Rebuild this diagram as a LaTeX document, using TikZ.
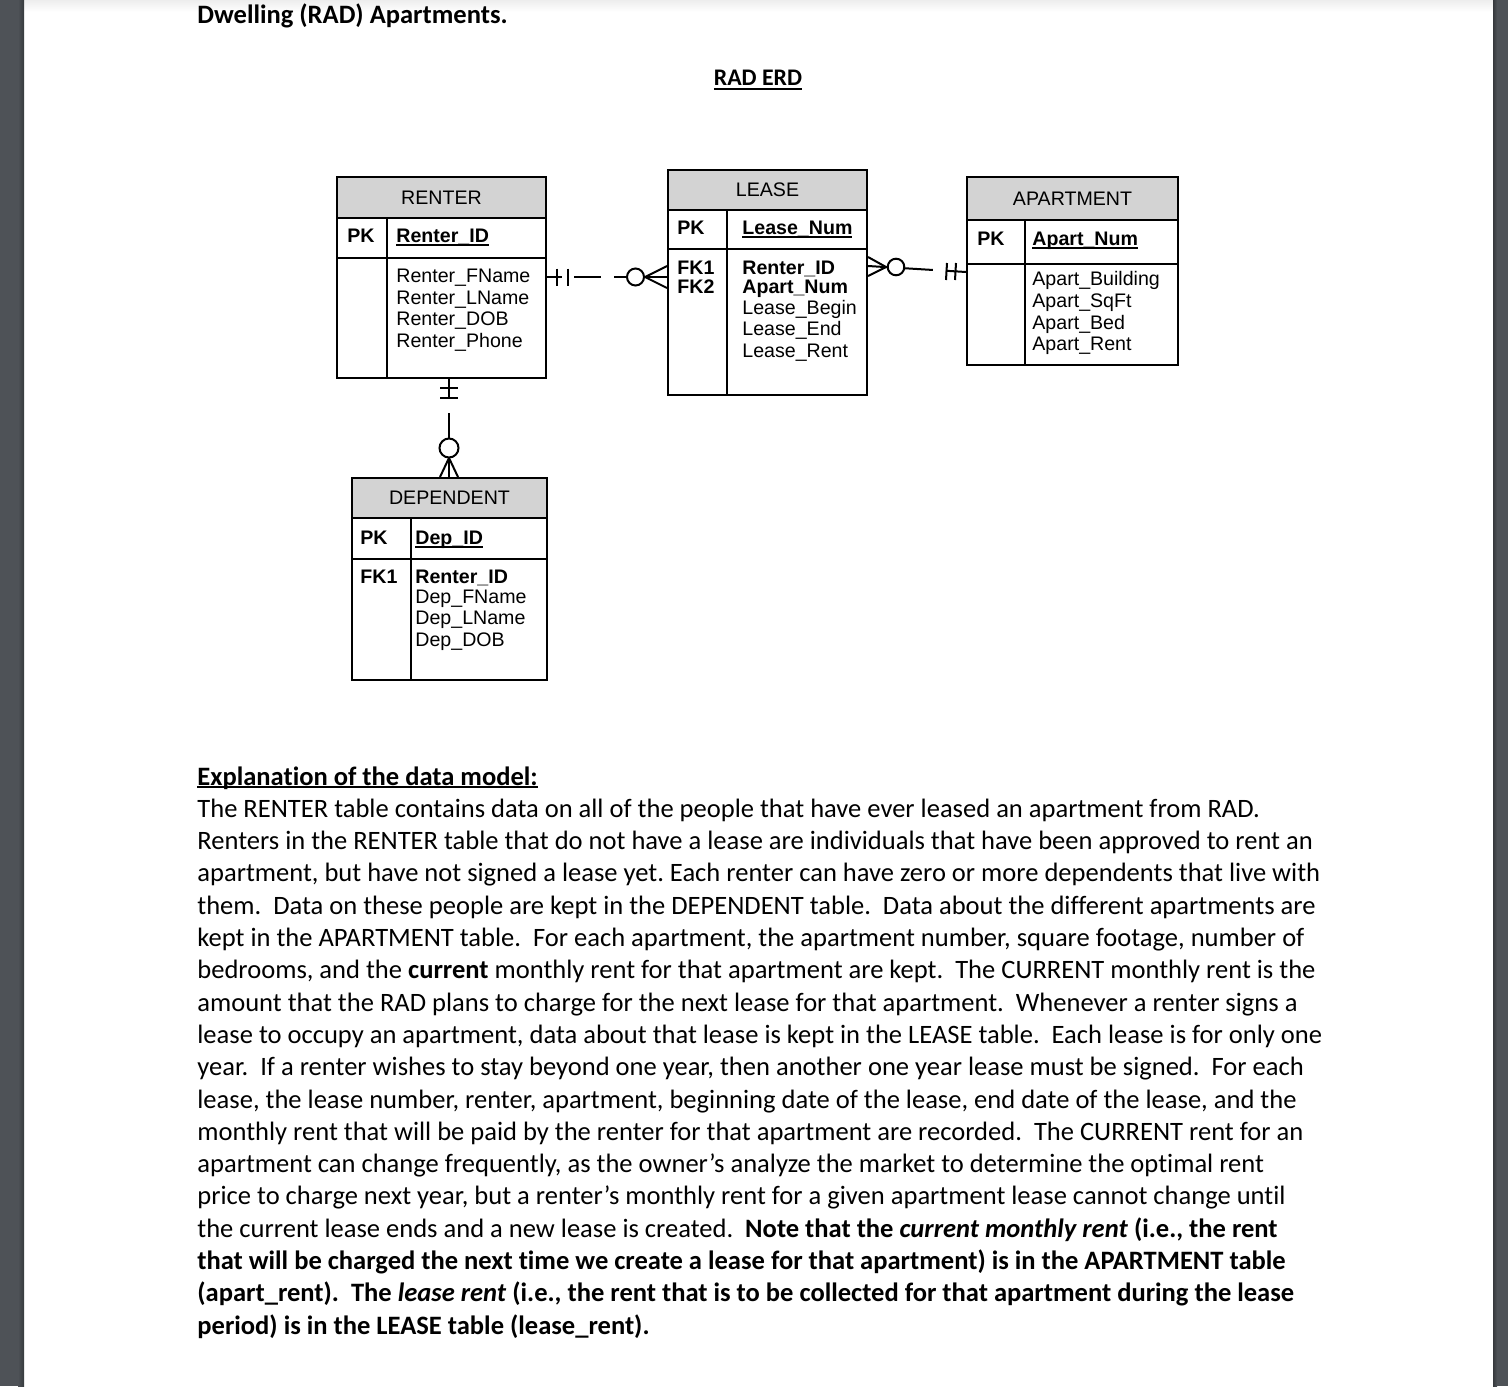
\documentclass[tikz,border=0pt]{standalone}
\usepackage{fontspec}
\setmainfont{Carlito}[Ligatures=NoCommon]
\newfontfamily\erdfont{Liberation Sans}
\usetikzlibrary{fit,calc}
\definecolor{hdrgray}{RGB}{211,211,211}
\definecolor{sidegray}{RGB}{78,82,87}
\frenchspacing
\newcommand\thul[3]{\setbox0\hbox{#3}\rlap{\rule[-#1]{\wd0}{#2}}\box0}
\tikzset{
  tblbox/.style={draw, line width=1pt, inner sep=0pt},
  hdrbox/.style={fill=hdrgray, inner sep=0pt},
  tblline/.style={line width=1pt},
  erd/.style={font=\erdfont\fontsize{9.8pt}{11pt}\selectfont, inner sep=0pt, anchor=base west},
  erdb/.style={font=\erdfont\bfseries\fontsize{9.8pt}{11pt}\selectfont, inner sep=0pt, anchor=base west},
  erdh/.style={font=\erdfont\fontsize{9.8pt}{11pt}\selectfont, inner sep=0pt, anchor=center},
  para/.style={font=\fontsize{13.27pt}{16pt}\selectfont, inner sep=0pt, anchor=base west},
  rel/.style={line width=1pt},
  knob/.style={line width=1pt, fill=white},
}
\begin{document}
\begin{tikzpicture}[x=0.5pt,y=-0.5pt]
\useasboundingbox (0,0) rectangle (1508,1386);
% page frame
\fill[white] (0,0) rectangle (1508,1386);
\shade[top color=black!7, bottom color=white] (24,0) rectangle (1493,12);
\fill[sidegray] (0,0) rectangle (24,1386);
\shade[left color=sidegray, right color=sidegray!70!black] (18,0) rectangle (24,1386);
\fill[sidegray] (1493,0) rectangle (1508,1386);
\shade[left color=sidegray!70!black, right color=sidegray] (1493,0) rectangle (1497,1386);

% titles
\node[para] (title) at (197,24) {\textbf{Dwelling (RAD) Apartments.}};
\node[font=\fontsize{11.9pt}{14pt}\selectfont, inner sep=0pt, anchor=base] (erdtitle) at (758,86) {\thul{2.2pt}{1pt}{\textbf{RAD ERD}}};

% ---------- RENTER ----------
\coordinate (rNW) at (337,177); \coordinate (rHB) at (546,218); \coordinate (rSE) at (546,378);
\node[hdrbox, fit=(rNW)(rHB)] (renterH) {};
\node[tblbox, fit=(rNW)(rSE)] (renter) {};
\draw[tblline] (337,218) -- (546,218);
\draw[tblline] (337,258) -- (546,258);
\draw[tblline] (387,218) -- (387,378);
\node[erdh] (renterT) at (renterH.center) {RENTER};
\node[erdb] (renterPK) at (347,242) {PK};
\node[erdb] (renterK) at (396,242) {\thul{1.8pt}{0.8pt}{Renter\_ID}};
\node[erd] (renterA1) at (396,282) {Renter\_FName};
\node[erd] (renterA2) at (396,304) {Renter\_LName};
\node[erd] (renterA3) at (396,325) {Renter\_DOB};
\node[erd] (renterA4) at (396,347) {Renter\_Phone};

% ---------- LEASE ----------
\coordinate (lNW) at (668,170); \coordinate (lHB) at (867,210); \coordinate (lSE) at (867,395);
\node[hdrbox, fit=(lNW)(lHB)] (leaseH) {};
\node[tblbox, fit=(lNW)(lSE)] (lease) {};
\draw[tblline] (668,210) -- (867,210);
\draw[tblline] (668,249) -- (867,249);
\draw[tblline] (727,210) -- (727,395);
\node[erdh] (leaseT) at (leaseH.center) {LEASE};
\node[erdb] (leasePK) at (677,234) {PK};
\node[erdb] (leaseK) at (742,234) {\thul{1.8pt}{0.8pt}{Lease\_Num}};
\node[erdb] (leaseF1) at (677,274) {FK1};
\node[erdb] (leaseF2) at (677,293) {FK2};
\node[erdb] (leaseA1) at (742,274) {Renter\_ID};
\node[erdb] (leaseA2) at (742,293) {Apart\_Num};
\node[erd] (leaseA3) at (742,314) {Lease\_Begin};
\node[erd] (leaseA4) at (742,335) {Lease\_End};
\node[erd] (leaseA5) at (742,357) {Lease\_Rent};

% ---------- APARTMENT ----------
\coordinate (aNW) at (967,177); \coordinate (aHB) at (1178,220); \coordinate (aSE) at (1178,365);
\node[hdrbox, fit=(aNW)(aHB)] (aptH) {};
\node[tblbox, fit=(aNW)(aSE)] (apt) {};
\draw[tblline] (967,220) -- (1178,220);
\draw[tblline] (967,264) -- (1178,264);
\draw[tblline] (1025,220) -- (1025,365);
\node[erdh] (aptT) at (aptH.center) {APARTMENT};
\node[erdb] (aptPK) at (977,245) {PK};
\node[erdb] (aptK) at (1032,245) {\thul{1.8pt}{0.8pt}{Apart\_Num}};
\node[erd] (aptA1) at (1032,285) {Apart\_Building};
\node[erd] (aptA2) at (1032,307) {Apart\_SqFt};
\node[erd] (aptA3) at (1032,329) {Apart\_Bed};
\node[erd] (aptA4) at (1032,350) {Apart\_Rent};

% ---------- DEPENDENT ----------
\coordinate (dNW) at (352,478); \coordinate (dHB) at (547,518); \coordinate (dSE) at (547,680);
\node[hdrbox, fit=(dNW)(dHB)] (depH) {};
\node[tblbox, fit=(dNW)(dSE)] (dep) {};
\draw[tblline] (352,518) -- (547,518);
\draw[tblline] (352,559) -- (547,559);
\draw[tblline] (411,518) -- (411,680);
\node[erdh] (depT) at (depH.center) {DEPENDENT};
\node[erdb] (depPK) at (360,544) {PK};
\node[erdb] (depK) at (415,544) {\thul{1.8pt}{0.8pt}{Dep\_ID}};
\node[erdb] (depF1) at (360,583) {FK1};
\node[erdb] (depA1) at (415,583) {Renter\_ID};
\node[erd] (depA2) at (415,603) {Dep\_FName};
\node[erd] (depA3) at (415,624) {Dep\_LName};
\node[erd] (depA4) at (415,646) {Dep\_DOB};

% ---------- connectors ----------
% RENTER -- LEASE
\coordinate (yA) at (0,277);
\coordinate (ra) at (renter.east |- yA);
\coordinate (la) at (lease.west |- yA);
\draw[rel, dash pattern=on 7.5pt off 6pt on 13.5pt off 6.5pt on 40pt] (ra) -- (la);
\draw[rel] ($(ra)+(10,-8.5)$) -- ($(ra)+(10,8.5)$);
\draw[rel] ($(ra)+(21,-8.5)$) -- ($(ra)+(21,8.5)$);
\draw[rel] ($(la)+(-22,0)$) -- ($(la)+(0,-11)$);
\draw[rel] ($(la)+(-22,0)$) -- ($(la)+(0,11)$);
\draw[knob] ($(la)+(-31.5,0)$) circle[radius=4.25pt];

% LEASE -- APARTMENT
\coordinate (yB) at (0,266);
\coordinate (yC) at (0,272);
\coordinate (lb) at (lease.east |- yB);
\coordinate (ab) at (apt.west |- yC);
\draw[rel, dash pattern=on 32.5pt off 6.5pt on 40pt] (lb) -- (ab);
\draw[rel] ($(lb)+(0,-9)$) -- ($(lb)+(18,1)$) -- ($(lb)+(0,10)$);
\draw[knob] ($(lb)+(28,1)$) circle[radius=4.15pt];
\draw[rel] ($(ab)+(-19,-9)$) -- ($(ab)+(-20,8)$);
\draw[rel] ($(ab)+(-10,-9)$) -- ($(ab)+(-11,8)$);

% RENTER -- DEPENDENT
\coordinate (xD) at (449,0);
\coordinate (rd) at (renter.south -| xD);
\coordinate (dd) at (dep.north -| xD);
\draw[rel, dash pattern=on 10pt off 7pt on 40pt] (rd) -- (dd);
\draw[rel] ($(rd)+(-9,9)$) -- ($(rd)+(9,9)$);
\draw[rel] ($(rd)+(-9,19)$) -- ($(rd)+(9,19)$);
\draw[rel] ($(dd)+(0,-19)$) -- ($(dd)+(-9,0)$);
\draw[rel] ($(dd)+(0,-19)$) -- ($(dd)+(9,0)$);
\draw[knob] ($(dd)+(0,-29)$) circle[radius=4.75pt];

% ---------- explanation ----------
\node[para] (p0) at (197,785.0) {\thul{1.6pt}{1pt}{\textbf{Explanation of the data model:}}};
\node[para] (p1) at (197,817.3) {The RENTER table contains data on all of the people that have ever leased an apartment from RAD.};
\node[para] (p2) at (197,849.6) {Renters in the RENTER table that do not have a lease are individuals that have been approved to rent an};
\node[para] (p3) at (197,881.9) {apartment, but have not signed a lease yet. Each renter can have zero or more dependents that live with};
\node[para] (p4) at (197,914.2) {them.~ Data on these people are kept in the DEPENDENT table.~ Data about the different apartments are};
\node[para] (p5) at (197,946.5) {kept in the APARTMENT table.~ For each apartment, the apartment number, square footage, number of};
\node[para] (p6) at (197,978.8) {bedrooms, and the \textbf{current} monthly rent for that apartment are kept.~ The CURRENT monthly rent is the};
\node[para] (p7) at (197,1011.1) {amount that the RAD plans to charge for the next lease for that apartment.~ Whenever a renter signs a};
\node[para] (p8) at (197,1043.4) {lease to occupy an apartment, data about that lease is kept in the LEASE table.~ Each lease is for only one};
\node[para] (p9) at (197,1075.7) {year.~ If a renter wishes to stay beyond one year, then another one year lease must be signed.~ For each};
\node[para] (p10) at (197,1108.0) {lease, the lease number, renter, apartment, beginning date of the lease, end date of the lease, and the};
\node[para] (p11) at (197,1140.3) {monthly rent that will be paid by the renter for that apartment are recorded.~ The CURRENT rent for an};
\node[para] (p12) at (197,1172.6) {apartment can change frequently, as the owner’s analyze the market to determine the optimal rent};
\node[para] (p13) at (197,1204.9) {price to charge next year, but a renter’s monthly rent for a given apartment lease cannot change until};
\node[para] (p14) at (197,1237.2) {the current lease ends and a new lease is created.~ \textbf{Note that the \textit{current monthly rent} (i.e., the rent}};
\node[para] (p15) at (197,1269.5) {\textbf{that will be charged the next time we create a lease for that apartment) is in the APARTMENT table}};
\node[para] (p16) at (197,1301.8) {\textbf{(apart\_rent).~ The \textit{lease rent} (i.e., the rent that is to be collected for that apartment during the lease}};
\node[para] (p17) at (197,1334.1) {\textbf{period) is in the LEASE table (lease\_rent).}};
\end{tikzpicture}
\end{document}
